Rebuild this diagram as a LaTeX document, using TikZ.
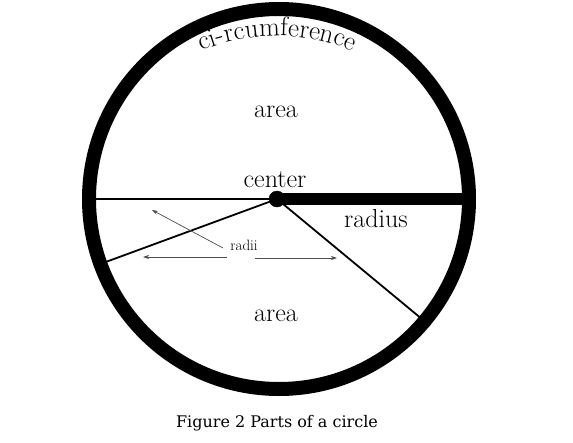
\documentclass[tikz,border=0pt]{standalone}
\usepackage{fontspec}
\newfontfamily\capfont{DejaVu Serif}
\usetikzlibrary{decorations.text,arrows.meta}
\begin{document}
\begin{tikzpicture}[x=1pt,y=1pt,
  thinline/.style={line width=1.8pt,black},
  ptr/.style={draw=black!70,line width=0.7pt,-{Stealth[length=6pt,width=4pt]}},
  bigtext/.style={font=\fontsize{26}{26}\selectfont,inner sep=0pt,anchor=base},
  smalltext/.style={font=\fontsize{15}{15}\selectfont,inner sep=0pt,anchor=base}]
\useasboundingbox (0,0) rectangle (573,-442);
\coordinate (C) at (277,-199);
\node[draw,circle,line width=14pt,minimum size=380pt,inner sep=0pt] (rim) at (279,-199) {};
\draw[thinline] (rim.west) -- (C);
\draw[thinline] (C) -- (rim.200);
\draw[thinline] (C) -- (rim.320);
\draw[line width=12pt] (C) -- (rim.east);
\node[draw,circle,fill=black,minimum size=16pt,inner sep=0pt] (dot) at (C) {};
% circumference label
\path[decorate,decoration={text along path,text align=center,
  text format delimiters={|}{|},
  text={|\fontsize{27}{27}\selectfont|ci-rcumference}}]
  (277,-236) ++(125:200) arc[start angle=125,end angle=55,radius=200];
% texts
\node[bigtext] (area1) at (276,-117) {area};
\node[bigtext] (center) at (275,-187) {center};
\node[bigtext] (radius) at (376,-227) {radius};
\node[bigtext] (area2) at (276,-321) {area};
\node[smalltext] (radii) at (244,-250) {radii};
\node[font=\capfont\fontsize{16}{16}\selectfont,inner sep=0pt,anchor=base] (cap) at (277,-427) {Figure 2 Parts of a circle};
% radii pointers
\coordinate (p1s) at (223,-248);
\coordinate (p1e) at (152,-210);
\coordinate (p2s) at (227,-257);
\coordinate (p2e) at (143,-257);
\coordinate (p3s) at (255,-258);
\coordinate (p3e) at (337,-258);
\draw[ptr] (p1s) -- (p1e);
\draw[ptr] (p2s) -- (p2e);
\draw[ptr] (p3s) -- (p3e);
\end{tikzpicture}
\end{document}
